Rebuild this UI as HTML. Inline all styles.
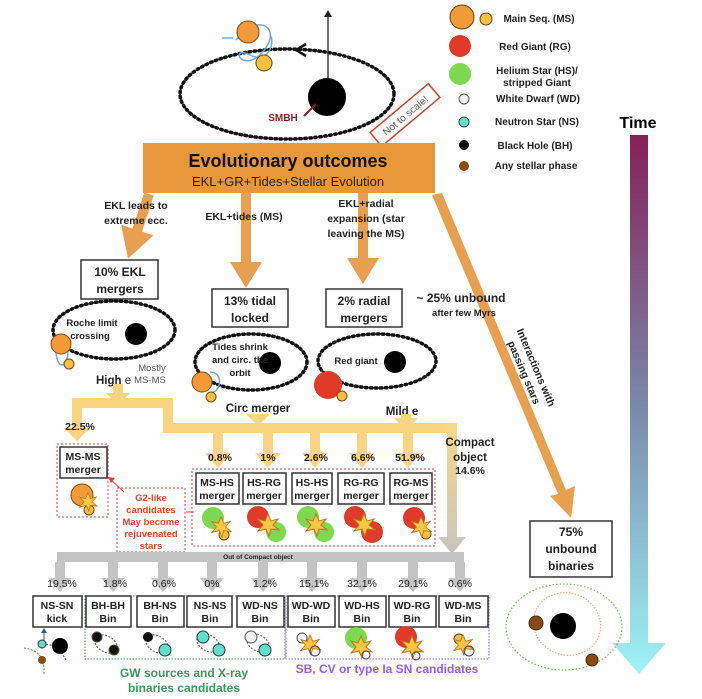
<!DOCTYPE html>
<html><head><meta charset="utf-8"><style>
html,body{margin:0;padding:0;background:#fff}
svg{display:block}
text{font-family:"Liberation Sans",Arial,sans-serif}
.b{font-weight:bold}
</style></head><body>
<svg width="702" height="699" viewBox="0 0 702 699" xmlns="http://www.w3.org/2000/svg">
<defs>
<linearGradient id="tg" x1="0" y1="0" x2="0" y2="1">
<stop offset="0" stop-color="#86205a"/><stop offset="0.5" stop-color="#7a88a8"/><stop offset="1" stop-color="#9ef3f8"/>
</linearGradient>
<linearGradient id="cg" x1="0" y1="0" x2="0" y2="1">
<stop offset="0" stop-color="#f8d888"/><stop offset="1" stop-color="#c8c4c0"/>
</linearGradient>
<symbol id="st" viewBox="-12 -12 24 24">
<polygon points="0,-11 3,-4 10,-6 5,0 11,5 3,4 1,11 -2,4 -10,6 -5,0 -10,-6 -3,-4" fill="#f8c840" stroke="#c07820" stroke-width="1"/>
</symbol>
</defs>

<!-- time arrow -->
<text x="638" y="128" class="b" font-size="16" text-anchor="middle">Time</text>
<path d="M630,135 H648 V643 H666 L639,674 L612,643 H630 Z" fill="url(#tg)"/>

<!-- top ellipse -->
<ellipse cx="287" cy="94" rx="107" ry="45" fill="none" stroke="#111" stroke-width="3.5" stroke-dasharray="1.5 3.5" stroke-linecap="round"/>
<path d="M306,44 L296,50 L306,56" fill="none" stroke="#111" stroke-width="2.5"/>
<line x1="328" y1="80" x2="328" y2="14" stroke="#222" stroke-width="1.3"/>
<path d="M324,17 L328,10 L332,17 Z" fill="#222"/>
<circle cx="327" cy="97" r="19" fill="#000"/>
<line x1="304" y1="116" x2="316" y2="104" stroke="#8b2020" stroke-width="2"/>
<text x="283" y="121" class="b" font-size="10" fill="#8b2020" text-anchor="middle">SMBH</text>
<path d="M236,40 C260,10 285,30 260,55 C240,72 230,45 250,55 C270,65 275,40 270,35" fill="none" stroke="#6aa8e8" stroke-width="1.5"/>
<path d="M233,38 L222,38" stroke="#6aa8e8" stroke-width="1.5"/>
<circle cx="248" cy="32" r="11" fill="#f39a38" stroke="#7a4a10"/>
<circle cx="264" cy="63" r="8" fill="#f3c040" stroke="#7a4a10"/>
<g transform="translate(405,115) rotate(-40)">
<rect x="-38" y="-9" width="76" height="18" fill="#fff" stroke="#d04030" stroke-width="1.5"/>
<text x="0" y="4" font-size="10" text-anchor="middle" fill="#555">Not to scale!</text>
</g>

<!-- orange box -->
<rect x="143" y="143" width="292" height="50" fill="#e8983a"/>
<text x="288" y="167" class="b" font-size="18" text-anchor="middle" fill="#111">Evolutionary outcomes</text>
<text x="288" y="186" font-size="13" text-anchor="middle" fill="#222">EKL+GR+Tides+Stellar Evolution</text>

<!-- legend -->
<circle cx="462" cy="17" r="12" fill="#f39a38" stroke="#6a4010"/>
<circle cx="486" cy="19" r="6" fill="#f3c040" stroke="#6a4010"/>
<circle cx="460" cy="46" r="11" fill="#e03a28"/>
<circle cx="460" cy="74" r="11" fill="#7ed850"/>
<circle cx="464" cy="99" r="5" fill="#f4f4f4" stroke="#6a5040"/>
<circle cx="464" cy="122" r="5" fill="#60e0c8" stroke="#445"/>
<circle cx="464" cy="145" r="5" fill="#000"/>
<circle cx="464" cy="166" r="5" fill="#8a4a14"/>
<g class="b" font-size="10" text-anchor="middle" fill="#222">
<text x="539" y="22">Main Seq. (MS)</text>
<text x="535" y="50">Red Giant (RG)</text>
<text x="537" y="74">Helium Star (HS)/</text>
<text x="537" y="86">stripped Giant</text>
<text x="538" y="102">White Dwarf (WD)</text>
<text x="537" y="125">Neutron Star (NS)</text>
<text x="535" y="149">Black Hole (BH)</text>
<text x="536" y="169">Any stellar phase</text>
</g>

<!-- orange arrows -->
<g fill="#e8a050">
<g transform="translate(149,194) rotate(18)"><path d="M-5,0 H5 V38 H17 L0,68 L-17,38 H-5 Z"/></g>
<path d="M241,193 H251 V262 H262 L246,288 L230,262 H241 Z"/>
<path d="M358,193 H368 V258 H379 L363,284 L347,258 H358 Z"/>
<polygon points="432,195 442,193 566,490 575,486 571,518 550,496 558,494"/>
</g>
<g class="b" font-size="10.5" text-anchor="middle" fill="#222">
<text x="136" y="209">EKL leads to</text>
<text x="136" y="224">extreme ecc.</text>
<text x="244" y="220">EKL+tides (MS)</text>
<text x="366" y="207">EKL+radial</text>
<text x="366" y="222">expansion (star</text>
<text x="366" y="237">leaving the MS)</text>
<text x="461" y="302" font-size="12">~ 25% unbound</text>
<text x="464" y="316" font-size="9.5">after few Myrs</text>
</g>
<g transform="translate(530,370) rotate(67)" class="b" font-size="10.5" text-anchor="middle" fill="#222">
<text x="0" y="-3">Interactions with</text>
<text x="0" y="10">passing stars</text>
</g>

<!-- scenario boxes -->
<g fill="#fff" stroke="#333" stroke-width="1.5">
<rect x="81" y="260" width="77" height="39"/>
<rect x="212" y="289" width="76" height="38"/>
<rect x="326" y="289" width="76" height="38"/>
<rect x="530" y="521" width="82" height="56"/>
</g>
<g class="b" font-size="12" text-anchor="middle" fill="#222">
<text x="120" y="276">10% EKL</text><text x="120" y="293">mergers</text>
<text x="250" y="305">13% tidal</text><text x="250" y="322">locked</text>
<text x="364" y="305">2% radial</text><text x="364" y="322">mergers</text>
<text x="571" y="536">75%</text><text x="571" y="553">unbound</text><text x="571" y="570">binaries</text>
</g>

<!-- scenario ellipses -->
<g fill="none" stroke="#111" stroke-width="3.5" stroke-dasharray="1.5 3.5" stroke-linecap="round">
<ellipse cx="114" cy="330" rx="61" ry="29"/>
<ellipse cx="251" cy="362" rx="56" ry="28"/>
<ellipse cx="377" cy="361" rx="59" ry="27"/>
</g>
<circle cx="136" cy="334" r="11" fill="#000"/>
<circle cx="270" cy="363" r="11" fill="#000"/>
<circle cx="395" cy="362" r="11" fill="#000"/>
<g font-size="9.5" fill="#222" class="b" text-anchor="middle">
<text x="92" y="326">Roche limit</text><text x="90" y="339">crossing</text>
<text x="240" y="350">Tides shrink</text><text x="240" y="363">and circ. the</text><text x="240" y="376">orbit</text>
<text x="356" y="364">Red giant</text>
</g>
<g font-size="9.5" fill="#555" text-anchor="middle"><text x="152" y="371">Mostly</text><text x="150" y="383">MS-MS</text></g>
<g class="b" font-size="11.5" fill="#222"><text x="96" y="384">High <tspan font-weight="normal">e</tspan></text>
<text x="258" y="412" text-anchor="middle">Circ merger</text>
<text x="402" y="415" text-anchor="middle">Mild e</text></g>
<ellipse cx="62" cy="350" rx="6" ry="15" fill="none" stroke="#6aa8e8" stroke-width="1.5"/>
<circle cx="61" cy="344" r="10" fill="#f39a38" stroke="#7a4a10"/>
<circle cx="69" cy="364" r="5" fill="#f3c040" stroke="#7a4a10"/>
<path d="M210,372 C225,372 220,395 210,392" fill="none" stroke="#6aa8e8" stroke-width="1.5"/>
<circle cx="202" cy="382" r="10" fill="#f39a38" stroke="#7a4a10"/>
<circle cx="211" cy="397" r="5" fill="#f3c040" stroke="#7a4a10"/>
<path d="M330,375 C345,372 345,395 330,394" fill="none" stroke="#6aa8e8" stroke-width="1.5"/>
<circle cx="328" cy="385" r="14" fill="#e03a28"/>
<circle cx="342" cy="396" r="5" fill="#f3c040" stroke="#7a4a10"/>

<!-- yellow merger flow -->
<g fill="#fad580">
<rect x="113" y="384" width="10" height="10"/>
<polygon points="106,393 130,393 118,405"/>
<rect x="72" y="398" width="101" height="10"/>
<rect x="72" y="398" width="10" height="32"/>
<polygon points="64,428 90,428 77,441"/>
<rect x="163" y="398" width="10" height="35"/>
<rect x="163" y="423" width="294" height="10"/>
<polygon points="246,414 270,414 258,426"/>
<polygon points="394,418 418,418 406,430"/>
<rect x="401" y="414" width="10" height="5"/>
<rect x="213" y="433" width="10" height="22"/><polygon points="205,453 231,453 218,468"/>
<rect x="263" y="433" width="10" height="22"/><polygon points="255,453 281,453 268,468"/>
<rect x="310" y="433" width="10" height="22"/><polygon points="302,453 328,453 315,468"/>
<rect x="357" y="433" width="10" height="22"/><polygon points="349,453 375,453 362,468"/>
<rect x="403" y="433" width="10" height="22"/><polygon points="395,453 421,453 408,468"/>
</g>
<path d="M447,423 H457 V537 H466 L452,554 L438,537 H447 Z" fill="url(#cg)"/>
<g class="b" font-size="10.5" fill="#222" text-anchor="middle">
<text x="80" y="430">22.5%</text>
<text x="220" y="461">0.8%</text><text x="268" y="461">1%</text><text x="316" y="461">2.6%</text>
<text x="363" y="461">6.6%</text><text x="410" y="461">51.9%</text>
<text x="470" y="446" font-size="11.5">Compact</text><text x="470" y="461" font-size="11.5">object</text><text x="470" y="474">14.6%</text>
</g>

<!-- merger boxes -->
<g fill="none" stroke="#e04030" stroke-width="1" stroke-dasharray="2 2">
<rect x="57" y="444" width="51" height="73"/>
<rect x="192" y="469" width="243" height="77"/>
<rect x="117" y="488" width="68" height="64"/>
</g>
<line x1="124" y1="492" x2="110" y2="479" stroke="#e04030" stroke-width="1"/>
<path d="M108,477 L115,478 L111,483 Z" fill="#e04030"/>
<line x1="186" y1="512" x2="194" y2="512" stroke="#e04030" stroke-width="1"/>
<g fill="#fff" stroke="#333" stroke-width="1.5">
<rect x="60" y="447" width="47" height="31"/>
<rect x="196" y="473" width="43" height="31"/><rect x="243" y="473" width="43" height="31"/>
<rect x="292" y="473" width="40" height="31"/><rect x="338" y="473" width="46" height="31"/>
<rect x="390" y="473" width="42" height="31"/>
</g>
<g class="b" font-size="10.5" fill="#222" text-anchor="middle">
<text x="83" y="460">MS-MS</text><text x="83" y="473">merger</text>
<text x="217" y="486">MS-HS</text><text x="217" y="499">merger</text>
<text x="264" y="486">HS-RG</text><text x="264" y="499">merger</text>
<text x="312" y="486">HS-HS</text><text x="312" y="499">merger</text>
<text x="361" y="486">RG-RG</text><text x="361" y="499">merger</text>
<text x="411" y="486">RG-MS</text><text x="411" y="499">merger</text>
</g>
<g class="b" font-size="9.5" fill="#e84030" text-anchor="middle">
<text x="151" y="501">G2-like</text><text x="151" y="513">candidates</text><text x="151" y="525">May become</text>
<text x="151" y="537">rejuvenated</text><text x="151" y="549">stars</text>
</g>
<!-- merger icons -->
<circle cx="82" cy="495" r="11" fill="#f39a38" stroke="#7a4a10"/><circle cx="89" cy="510" r="5" fill="#f3c040" stroke="#7a4a10"/><use href="#st" x="78" y="492" width="20" height="20"/>
<circle cx="213" cy="518" r="11" fill="#7ed850"/><circle cx="224" cy="535" r="5" fill="#f3c040" stroke="#7a4a10"/><use href="#st" x="210" y="516" width="22" height="22"/>
<circle cx="258" cy="517" r="11" fill="#e03a28"/><circle cx="276" cy="532" r="10" fill="#7ed850"/><use href="#st" x="256" y="513" width="24" height="24"/>
<circle cx="308" cy="517" r="11" fill="#7ed850"/><circle cx="324" cy="532" r="10" fill="#7ed850"/><use href="#st" x="304" y="513" width="24" height="24"/>
<circle cx="355" cy="517" r="11" fill="#e03a28"/><circle cx="372" cy="532" r="11" fill="#e03a28"/><use href="#st" x="352" y="513" width="24" height="24"/>
<circle cx="414" cy="518" r="11" fill="#e03a28"/><circle cx="426" cy="534" r="5" fill="#f3c040" stroke="#7a4a10"/><use href="#st" x="410" y="516" width="22" height="22"/>

<!-- gray flow -->
<rect x="57" y="552" width="407" height="10" fill="#c4c4c4"/>
<text x="258" y="559" class="b" font-size="6.5" text-anchor="middle" fill="#222">Out of Compact object</text>
<g fill="#c4c4c4">
<rect x="55" y="562" width="10" height="18"/><polygon points="48,578 72,578 60,592"/>
<rect x="108" y="562" width="10" height="18"/><polygon points="101,578 125,578 113,592"/>
<rect x="158" y="562" width="10" height="18"/><polygon points="151,578 175,578 163,592"/>
<rect x="207" y="562" width="10" height="18"/><polygon points="200,578 224,578 212,592"/>
<rect x="258" y="562" width="10" height="18"/><polygon points="251,578 275,578 263,592"/>
<rect x="307" y="562" width="10" height="18"/><polygon points="300,578 324,578 312,592"/>
<rect x="357" y="562" width="10" height="18"/><polygon points="350,578 374,578 362,592"/>
<rect x="408" y="562" width="10" height="18"/><polygon points="401,578 425,578 413,592"/>
<rect x="455" y="562" width="10" height="18"/><polygon points="448,578 472,578 460,592"/>
</g>
<g font-size="10.5" fill="#222" text-anchor="middle">
<text x="62" y="587">19.5%</text><text x="115" y="587">1.8%</text><text x="164" y="587">0.6%</text>
<text x="212" y="587">0%</text><text x="265" y="587">1.2%</text><text x="314" y="587">15.1%</text>
<text x="362" y="587">32.1%</text><text x="413" y="587">29.1%</text><text x="460" y="587">0.6%</text>
</g>
<g fill="none" stroke-width="1" stroke-dasharray="1.5 1.5">
<rect x="85" y="596" width="200" height="63" stroke="#3a9a5a"/>
<rect x="286" y="596" width="203" height="63" stroke="#9a5af0"/>
</g>
<g fill="#fff" stroke="#333" stroke-width="1.5">
<rect x="33" y="596" width="49" height="31"/><rect x="86" y="596" width="45" height="31"/>
<rect x="137" y="596" width="47" height="31"/><rect x="187" y="596" width="45" height="31"/>
<rect x="237" y="596" width="47" height="31"/><rect x="288" y="596" width="47" height="31"/>
<rect x="339" y="596" width="47" height="31"/><rect x="389" y="596" width="47" height="31"/>
<rect x="439" y="596" width="49" height="31"/>
</g>
<g class="b" font-size="10.5" fill="#222" text-anchor="middle">
<text x="57" y="609">NS-SN</text><text x="57" y="622">kick</text>
<text x="108" y="609">BH-BH</text><text x="108" y="622">Bin</text>
<text x="160" y="609">BH-NS</text><text x="160" y="622">Bin</text>
<text x="210" y="609">NS-NS</text><text x="210" y="622">Bin</text>
<text x="260" y="609">WD-NS</text><text x="260" y="622">Bin</text>
<text x="311" y="609">WD-WD</text><text x="311" y="622">Bin</text>
<text x="362" y="609">WD-HS</text><text x="362" y="622">Bin</text>
<text x="412" y="609">WD-RG</text><text x="412" y="622">Bin</text>
<text x="463" y="609">WD-MS</text><text x="463" y="622">Bin</text>
</g>
<!-- bottom icons -->
<path d="M66,660 C55,640 45,645 38,645" fill="none" stroke="#3050b0" stroke-width="1" stroke-dasharray="2 1.5"/>
<path d="M44,643 L44,631" stroke="#3050b0" stroke-width="1"/><path d="M41,633 L44,628 L47,633 Z" fill="#3050b0"/>
<path d="M24,648 C40,650 45,660 44,674" fill="none" stroke="#a0702a" stroke-width="1" stroke-dasharray="2 1.5"/>
<circle cx="42" cy="644" r="4" fill="#60e0c8" stroke="#334"/>
<circle cx="60" cy="646" r="8" fill="#000"/>
<circle cx="42" cy="660" r="4" fill="#8a4a14"/>
<g fill="none" stroke="#555" stroke-width="1" stroke-dasharray="2 1.5">
<ellipse cx="106" cy="644" rx="12" ry="8" transform="rotate(30 106 644)"/>
<ellipse cx="157" cy="644" rx="12" ry="8" transform="rotate(30 157 644)"/>
<ellipse cx="208" cy="643" rx="12" ry="8" transform="rotate(30 208 643)"/>
<ellipse cx="258" cy="643" rx="12" ry="8" transform="rotate(30 258 643)"/>
</g>
<circle cx="97" cy="637" r="5" fill="#111" stroke="#553"/><circle cx="114" cy="650" r="5" fill="#111" stroke="#553"/>
<circle cx="148" cy="637" r="5" fill="#111"/><circle cx="165" cy="650" r="6" fill="#60e0c8" stroke="#334"/>
<circle cx="203" cy="637" r="6" fill="#60e0c8" stroke="#334"/><circle cx="219" cy="650" r="6" fill="#60e0c8" stroke="#334"/>
<circle cx="251" cy="637" r="6" fill="#eee" stroke="#555"/><circle cx="265" cy="650" r="6" fill="#60e0c8" stroke="#334"/>
<circle cx="302" cy="638" r="5" fill="#fff" stroke="#444"/><use href="#st" x="299" y="634" width="22" height="22"/><circle cx="315" cy="651" r="5" fill="none" stroke="#444"/>
<circle cx="356" cy="638" r="11" fill="#7ed850"/><use href="#st" x="349" y="635" width="24" height="24"/><circle cx="366" cy="655" r="4" fill="none" stroke="#444"/>
<circle cx="406" cy="637" r="11" fill="#e03a28"/><use href="#st" x="400" y="635" width="24" height="24"/><circle cx="416" cy="656" r="4" fill="none" stroke="#444"/>
<circle cx="459" cy="639" r="5" fill="#f3c040" stroke="#444"/><use href="#st" x="452" y="634" width="22" height="22"/><circle cx="469" cy="651" r="5" fill="none" stroke="#444"/>
<g class="b" font-size="12" text-anchor="middle">
<text x="184" y="677" fill="#3a9a5a">GW sources and X-ray</text>
<text x="184" y="692" fill="#3a9a5a">binaries candidates</text>
<text x="387" y="673" fill="#9a5af0">SB, CV or type Ia SN candidates</text>
</g>

<!-- unbound -->
<ellipse cx="564" cy="627" rx="58" ry="43" fill="none" stroke="#6ac050" stroke-width="1.2" stroke-dasharray="1.5 2"/>
<ellipse cx="567" cy="624" rx="34" ry="31" transform="rotate(20 567 624)" fill="none" stroke="#f0b070" stroke-width="1.2" stroke-dasharray="1.5 1.5"/>
<circle cx="563" cy="626" r="13" fill="#000"/>
<circle cx="536" cy="623" r="7" fill="#8a4a14" stroke="#4a2a08"/>
<circle cx="592" cy="660" r="6" fill="#8a4a14" stroke="#4a2a08"/>
</svg>
</body></html>
